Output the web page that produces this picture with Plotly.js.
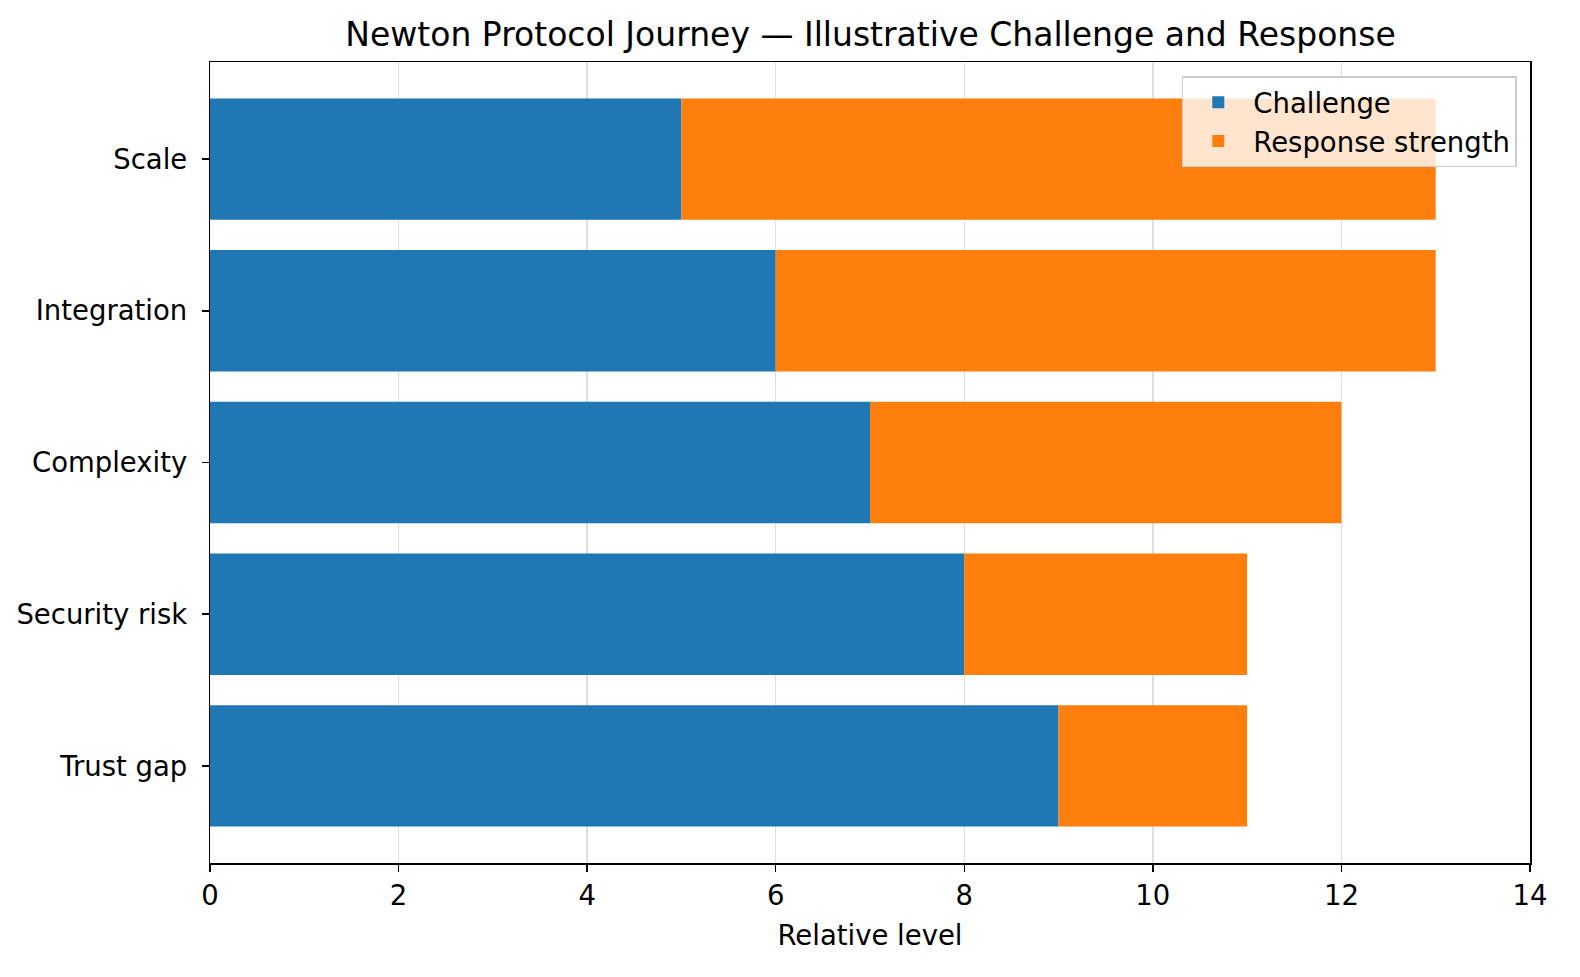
<!DOCTYPE html>
<html>
<head>
<meta charset="utf-8">
<script src="https://cdn.plot.ly/plotly-3.0.1.min.js"></script>
<style>
  html, body { margin: 0; padding: 0; background: #ffffff; }
  #grafico { width: 1580px; height: 977px; }
</style>
</head>
<body>
<div id="grafico"></div>
<script>
var categorias = ['Trust gap', 'Security risk', 'Complexity', 'Integration', 'Scale'];
var desafio = [9, 8, 7, 6, 5];
var resposta = [2, 3, 5, 7, 8];
var ticksX = [0, 2, 4, 6, 8, 10, 12, 14];

var fonte = 'DejaVu Sans, sans-serif';

var traceDesafio = {
    y: categorias,
    x: desafio,
    type: 'bar',
    orientation: 'h',
    name: 'Challenge',
    marker: { color: '#1f77b4', line: { width: 0 } },
    width: 0.8
};

var traceResposta = {
    y: categorias,
    x: resposta,
    base: desafio,
    type: 'bar',
    orientation: 'h',
    name: 'Response strength',
    marker: { color: '#ff7f0e', line: { width: 0 } },
    width: 0.8
};

var layout = {
    width: 1580,
    height: 977,
    paper_bgcolor: '#ffffff',
    plot_bgcolor: '#ffffff',
    font: { family: fonte, size: 27.5, color: '#000000' },
    title: { text: 'Newton Protocol Journey — Illustrative Challenge and Response', font: { size: 33, color: '#000000' }, x: 0.551, xanchor: 'center', y: 0.965, yanchor: 'middle' },
    barmode: 'overlay',
    margin: { t: 62, r: 50, b: 114, l: 210 },
    xaxis: {
        range: [0, 14],
        tickvals: ticksX,
        ticktext: ticksX.map(function(v) { return String(v); }),
        ticks: 'outside', ticklen: 7, tickwidth: 1.5, tickcolor: '#000000',
        showline: true, linecolor: '#000000', linewidth: 1.5, mirror: true,
        showgrid: true, gridcolor: 'rgba(176,176,176,0.4)', gridwidth: 1.5,
        zeroline: false,
        layer: 'above traces',
        title: { text: 'Relative level', font: { size: 27.5 }, standoff: 16 }
    },
    yaxis: {
        range: [-0.64, 4.64],
        ticks: 'outside', ticklen: 7, tickwidth: 1.5, tickcolor: '#000000',
        showline: true, linecolor: '#000000', linewidth: 1.5, mirror: true,
        showgrid: false,
        zeroline: false,
        ticksuffix: ' '
    },
    legend: {
        x: 0.99, y: 0.982, xanchor: 'right', yanchor: 'top',
        bgcolor: 'rgba(255,255,255,0.8)', bordercolor: '#cccccc', borderwidth: 1.5,
        font: { size: 27.5 },
        traceorder: 'normal',
        itemwidth: 60
    },
    showlegend: true
};

Plotly.newPlot('grafico', [traceDesafio, traceResposta], layout, { displayModeBar: false, staticPlot: true });
</script>
</body>
</html>
